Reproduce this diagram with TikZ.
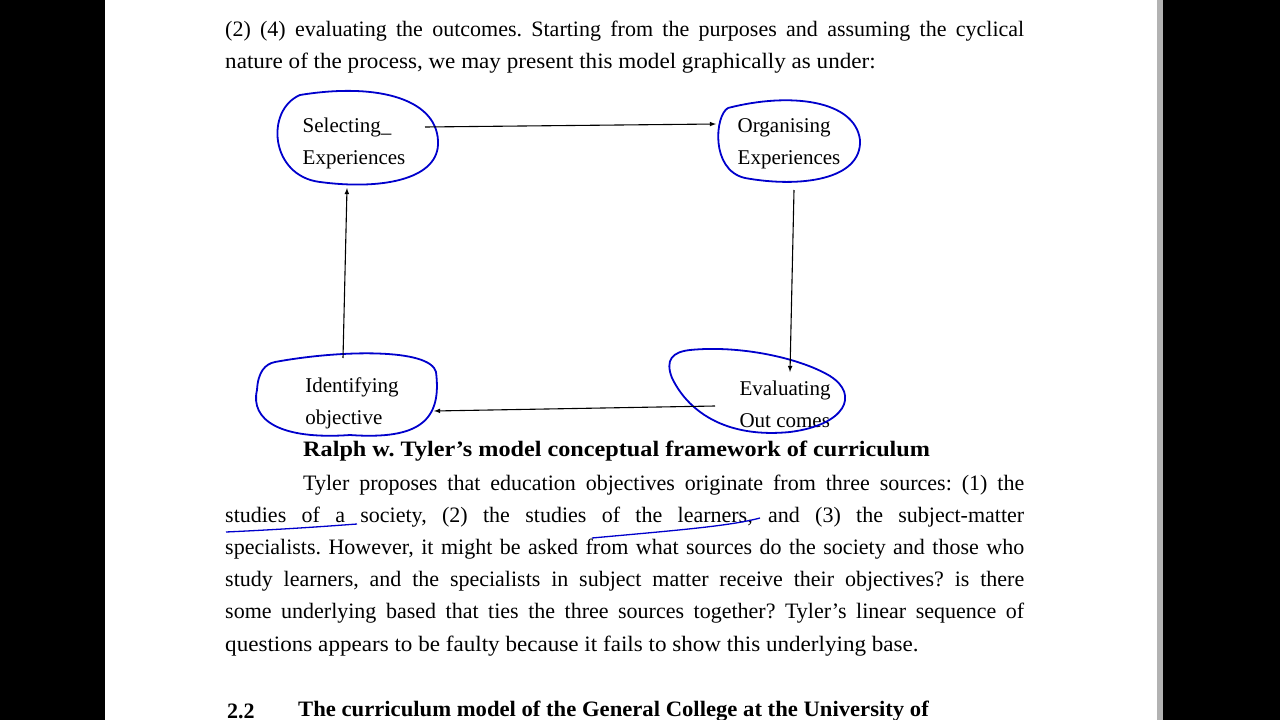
\documentclass[tikz,border=0pt]{standalone}
\usepackage{fontspec}
\setmainfont{Liberation Serif}
\frenchspacing
\begin{document}
\begin{tikzpicture}[x=1pt,y=-1pt,
  txt/.style={anchor=west,inner sep=0pt,font=\fontsize{22}{26}\selectfont},
  lbl/.style={align=left,inner sep=0pt,font=\fontsize{21}{32}\selectfont},
  blue line/.style={draw=blue!80!black,line width=1.8pt},
  arr/.style={-latex,line width=1.1pt}]
\useasboundingbox (0,0) rectangle (1280,720);
\fill[black] (0,0) rectangle (105,720);
\fill[black] (1157,0) rectangle (1280,720);
\fill[white] (105,0) rectangle (1157,720);
\fill[gray!60] (1157,0) rectangle (1163,720);
\newcommand{\jl}[3]{\node[txt] at (#1,#2) {\makebox[\dimexpr1024pt-#1pt\relax][s]{#3}};}
\newcommand{\pl}[3]{\node[txt] at (#1,#2) {\scalebox{1.05}[1]{#3}};}
\jl{225}{31}{(2) (4) evaluating the outcomes. Starting from the purposes and assuming the cyclical}
\pl{225}{63}{nature of the process, we may present this model graphically as under:}
% nodes
\node[lbl] (se) at (354,143) {Selecting\_\\Experiences};
\node[lbl] (oe) at (789,144) {Organising\\Experiences};
\node[lbl] (io) at (352,403) {Identifying\\objective};
\node[lbl] (eo) at (785,404) {Evaluating\\Out comes};
% blue hand-drawn loops
\draw[blue line] (300,95) .. controls (380,82) and (440,100) .. (438,145) .. controls (436,180) and (380,190) .. (320,182) .. controls (270,176) and (265,110) .. (300,95);
\draw[blue line] (728,108) .. controls (790,92) and (855,100) .. (860,140) .. controls (862,180) and (800,188) .. (745,178) .. controls (710,170) and (715,115) .. (728,108);
\draw[blue line] (275,362) .. controls (340,350) and (430,348) .. (436,372) .. controls (442,420) and (420,440) .. (350,435) .. controls (280,440) and (250,420) .. (257,390) .. controls (258,372) and (265,364) .. (275,362);
\draw[blue line] (690,350) .. controls (740,345) and (800,358) .. (830,376) .. controls (860,395) and (845,425) .. (790,432) .. controls (730,438) and (690,415) .. (672,378) .. controls (665,360) and (672,352) .. (690,350);
% arrows
\coordinate (a1) at (425,127); \coordinate (a2) at (716,124);
\draw[arr] (a1) -- (a2);
\coordinate (b1) at (794,190); \coordinate (b2) at (790,372);
\draw[arr] (b1) -- (b2);
\coordinate (c1) at (715,406); \coordinate (c2) at (434,411);
\draw[arr] (c1) -- (c2);
\coordinate (d1) at (343,358); \coordinate (d2) at (347,188);
\draw[arr] (d1) -- (d2);
% heading
\node[txt,font=\fontsize{22}{26}\selectfont\bfseries] at (303,451) {\scalebox{1.1}[1]{Ralph w. Tyler’s model conceptual framework of curriculum}};
\jl{303}{485}{Tyler proposes that education objectives originate from three sources: (1) the}
\jl{225}{517}{studies of a society, (2) the studies of the learners, and (3) the subject-matter}
\jl{225}{549}{specialists. However, it might be asked from what sources do the society and those who}
\jl{225}{581}{study learners, and the specialists in subject matter receive their objectives? is there}
\jl{225}{613}{some underlying based that ties the three sources together? Tyler’s linear sequence of}
\pl{225}{646}{questions appears to be faulty because it fails to show this underlying base.}
\draw[blue line,line width=1.3pt] (226,532) .. controls (290,529) and (330,526) .. (357,524);
\draw[blue line,line width=1.3pt] (592,538) .. controls (680,530) and (730,526) .. (760,518);
\node[txt,font=\fontsize{22}{26}\selectfont\bfseries] at (227,711) {2.2};
\node[txt,font=\fontsize{22}{26}\selectfont\bfseries] at (298,711) {\scalebox{1.03}[1]{The curriculum model of the General College at the University of}};
\end{tikzpicture}
\end{document}
